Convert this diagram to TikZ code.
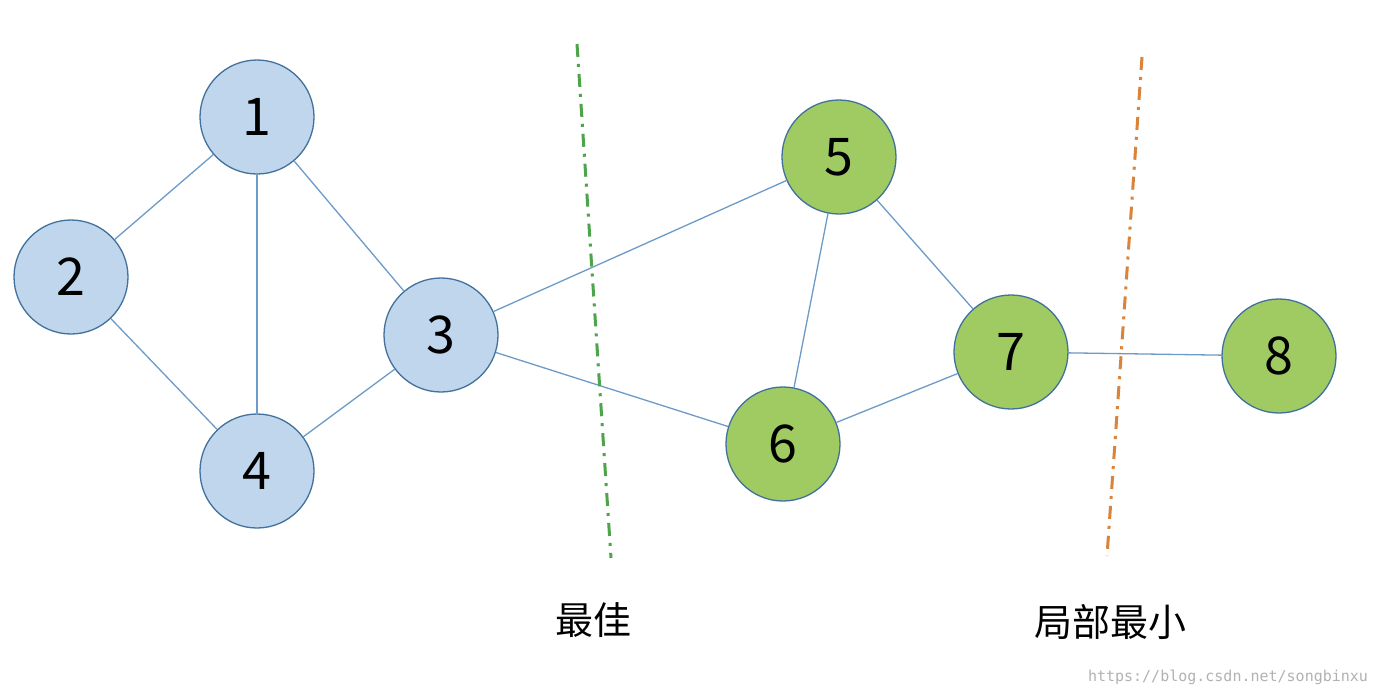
\documentclass[tikz,border=0pt]{standalone}
\usepackage{fontspec}
\setmainfont{Noto Sans CJK SC}
\newfontfamily\monof{DejaVu Sans Mono}
\definecolor{bfill}{HTML}{C0D6EC}
\definecolor{bdraw}{HTML}{41719C}
\definecolor{gfill}{HTML}{9FCB62}
\definecolor{edgec}{HTML}{6D9BC8}
\definecolor{gline}{HTML}{4EA44A}
\definecolor{oline}{HTML}{D9843A}
\begin{document}
\begin{tikzpicture}[x=1pt,y=-1pt,
  bn/.style={circle,draw=bdraw,line width=1.3pt,fill=bfill,minimum size=114pt,inner sep=0pt,font=\fontsize{52}{56}\selectfont},
  gn/.style={bn,fill=gfill},
  ed/.style={draw=edgec,line width=1.3pt},
  cut/.style={line width=3pt,dash pattern=on 13pt off 7pt on 3pt off 7pt},
  lab/.style={font=\fontsize{38}{42}\selectfont}]
\useasboundingbox[fill=white] (0,0) rectangle (1382,694);
\node[bn] (n1) at (257,117) {1};
\node[bn] (n2) at (71,277) {2};
\node[bn] (n3) at (441,335) {3};
\node[bn] (n4) at (257,471) {4};
\node[gn] (n5) at (839,157) {5};
\node[gn] (n6) at (783,444) {6};
\node[gn] (n7) at (1011,352) {7};
\node[gn] (n8) at (1279,356) {8};
\foreach \a/\b in {n1/n2,n1/n4,n1/n3,n2/n4,n4/n3,n3/n5,n3/n6,n5/n6,n5/n7,n6/n7,n7/n8}
  \draw[ed] (\a) -- (\b);
\coordinate (g1) at (577,44); \coordinate (g2) at (611,558);
\coordinate (o1) at (1142,57); \coordinate (o2) at (1107,556);
\draw[cut,gline] (g1) -- (g2);
\draw[cut,oline] (o1) -- (o2);
\node[lab] (t1) at (593,620) {最佳};
\node[lab] (t2) at (1110,622) {局部最小};
\node[font=\monof\fontsize{15}{17}\selectfont,text=gray!60] (wm) at (1228,677) {https://blog.csdn.net/songbinxu};
\end{tikzpicture}
\end{document}
